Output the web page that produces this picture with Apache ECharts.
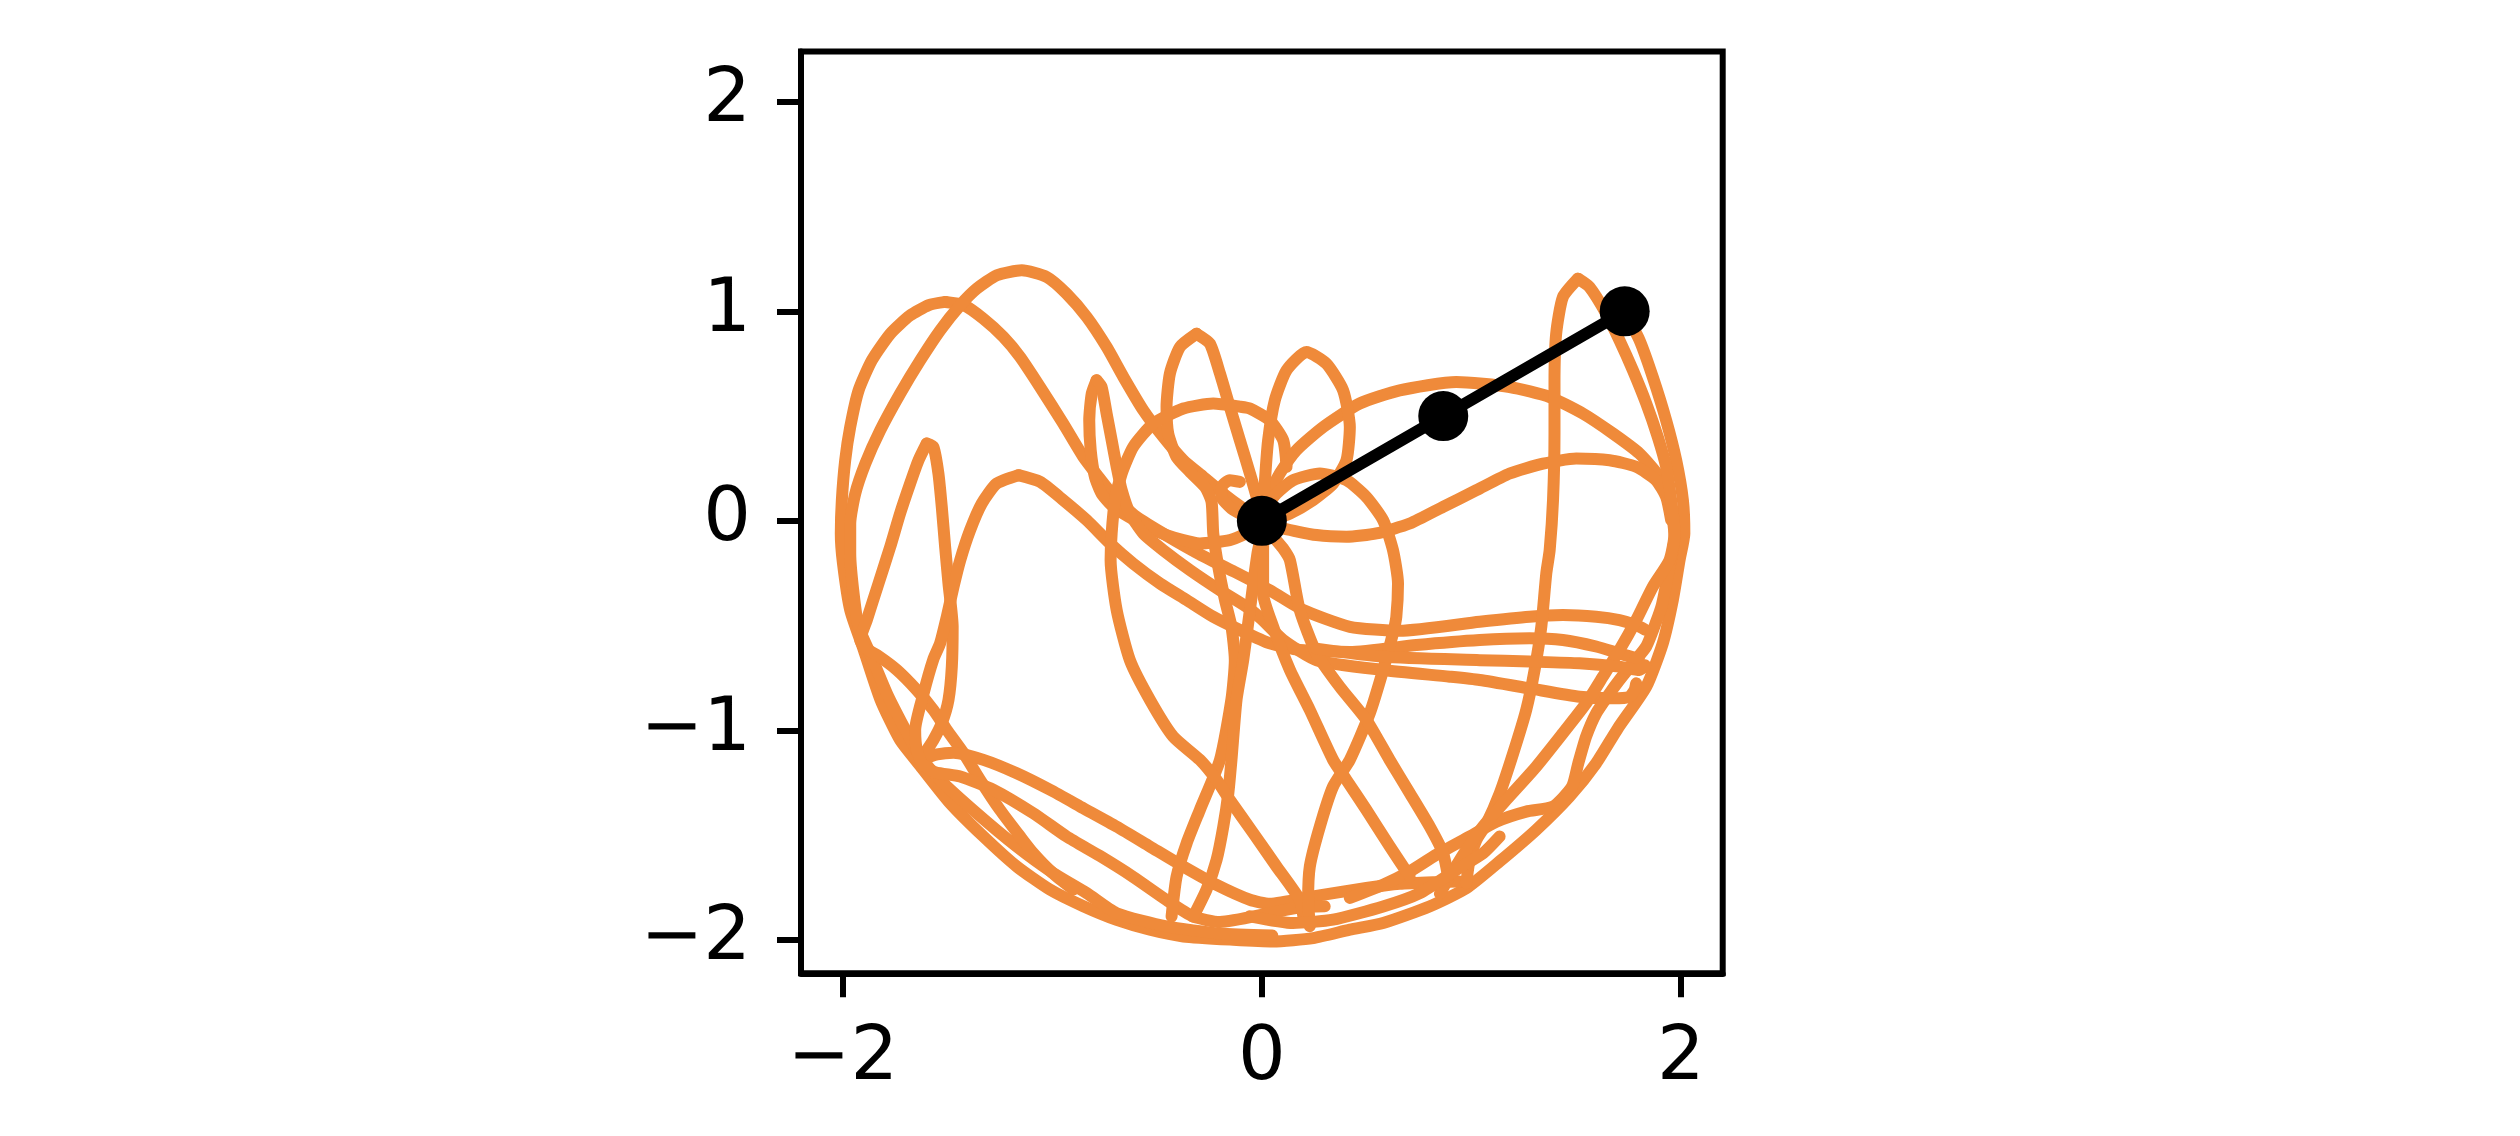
<!DOCTYPE html>
<html><head><meta charset="utf-8">
<script src="https://cdn.jsdelivr.net/npm/echarts@6/dist/echarts.min.js"></script>
<style>html,body{margin:0;padding:0;background:#fff}#c{width:2520px;height:1136px}</style>
</head><body><div id="c"></div>
<script>
const xTicks = [-2, 0, 2];
const yTicks = [-2, -1, 0, 1, 2];
const pendulum = [[0, 0], [0.866, 0.5], [1.732, 1.0]];

const arcOuter = [[-1.51,1.045],[-1.59,1.03],[-1.68,0.98],[-1.774,0.893],[-1.862,0.766],[-1.925,0.623],[-1.965,0.448],[-1.989,0.289],[-2.005,0.099],[-2.01,-0.06],[-2.0,-0.2],[-1.965,-0.426],[-1.9,-0.617],[-1.82,-0.855],[-1.727,-1.046],[-1.63,-1.17],[-1.488,-1.348],[-1.329,-1.507],[-1.17,-1.65],[-1.011,-1.761],[-0.852,-1.84],[-0.693,-1.905],[-0.534,-1.952],[-0.375,-1.984],[-0.137,-2.0],[0.054,-2.008],[0.245,-1.992],[0.42,-1.952],[0.579,-1.92],[0.8,-1.841],[0.976,-1.754],[1.135,-1.626],[1.31,-1.475],[1.469,-1.316],[1.596,-1.157],[1.7,-0.99],[1.835,-0.792],[1.914,-0.585],[1.962,-0.378],[1.994,-0.188],[2.017,-0.06],[2.01,0.099],[1.978,0.289],[1.93,0.48],[1.866,0.687],[1.803,0.862],[1.739,0.984]];
const legP1 = [[-1.51,1.045],[-1.424,1.03],[-1.33,0.965],[-1.234,0.878],[-1.154,0.782],[-1.059,0.639],[-0.948,0.464],[-0.852,0.305],[-0.78,0.21],[-0.7,0.11],[-0.6,0.02],[-0.455,-0.07],[-0.296,-0.16],[-0.137,-0.24],[0.038,-0.331],[0.197,-0.426],[0.42,-0.506],[0.658,-0.525],[1.04,-0.482],[1.278,-0.458],[1.437,-0.45],[1.596,-0.458],[1.707,-0.474],[1.787,-0.498],[1.83,-0.52]];
const arcP2 = [[0,0],[-0.089,0.059],[-0.184,0.13],[-0.28,0.21],[-0.375,0.289],[-0.471,0.401],[-0.566,0.528],[-0.661,0.687],[-0.741,0.83],[-0.836,0.973],[-0.932,1.084],[-1.027,1.164],[-1.146,1.196],[-1.265,1.172],[-1.361,1.108],[-1.44,1.029],[-1.536,0.909],[-1.631,0.766],[-1.727,0.607],[-1.822,0.432],[-1.893,0.273],[-1.941,0.13],[-1.965,-0.013],[-1.965,-0.156],[-1.949,-0.347],[-1.925,-0.506],[-1.87,-0.633],[-1.79,-0.824],[-1.71,-0.982],[-1.631,-1.126],[-1.536,-1.237],[-1.361,-1.396],[-1.17,-1.555],[-0.995,-1.682],[-0.836,-1.777],[-0.693,-1.873],[-0.455,-1.936],[-0.2,-1.97],[0.05,-1.98]];
const loopP3a = [[-1.6,0.369],[-1.639,0.289],[-1.679,0.178],[-1.727,0.035],[-1.774,-0.124],[-1.83,-0.299],[-1.886,-0.474],[-1.917,-0.569],[-1.89,-0.61],[-1.838,-0.64],[-1.742,-0.712],[-1.647,-0.808],[-1.568,-0.903],[-1.504,-0.998],[-1.424,-1.109],[-1.345,-1.237],[-1.25,-1.38],[-1.154,-1.507],[-1.091,-1.587],[-1.0,-1.68],[-0.9,-1.76]];
const loopP3b = [[-1.6,0.369],[-1.568,0.353],[-1.544,0.226],[-1.528,0.067],[-1.512,-0.124],[-1.496,-0.299],[-1.476,-0.506],[-1.48,-0.696],[-1.496,-0.855],[-1.528,-0.966],[-1.568,-1.046],[-1.615,-1.118],[-1.631,-1.141],[-1.55,-1.115],[-1.472,-1.107],[-1.329,-1.141],[-1.17,-1.205],[-1.011,-1.284],[-0.852,-1.372],[-0.693,-1.46],[-0.534,-1.555],[-0.375,-1.65],[-0.216,-1.738],[-0.057,-1.809],[0.038,-1.828],[0.245,-1.793],[0.499,-1.753],[0.658,-1.733],[0.833,-1.725],[0.944,-1.722]];
const loopP4a = [[-1.162,0.218],[-1.266,0.178],[-1.337,0.083],[-1.393,-0.045],[-1.44,-0.188],[-1.472,-0.315],[-1.504,-0.458],[-1.536,-0.585],[-1.568,-0.66],[-1.615,-0.824],[-1.655,-0.998],[-1.647,-1.094],[-1.62,-1.16],[-1.56,-1.2],[-1.44,-1.221],[-1.281,-1.284],[-1.091,-1.396],[-0.932,-1.507],[-0.773,-1.6],[-0.614,-1.7],[-0.455,-1.81],[-0.327,-1.889],[-0.2,-1.915],[0.038,-1.873],[0.181,-1.845],[0.3,-1.84]];
const loopP4b = [[-1.162,0.218],[-1.059,0.186],[-0.948,0.099],[-0.836,0.003],[-0.725,-0.108],[-0.614,-0.204],[-0.486,-0.299],[-0.359,-0.378],[-0.232,-0.458],[-0.105,-0.521],[0.038,-0.585],[0.181,-0.616],[0.42,-0.626],[0.738,-0.593],[1.04,-0.569],[1.278,-0.561],[1.437,-0.569],[1.596,-0.6],[1.707,-0.633],[1.8,-0.66]];
const loopP5a = [[-0.789,0.671],[-0.812,0.607],[-0.824,0.48],[-0.817,0.337],[-0.797,0.21],[-0.765,0.13],[-0.709,0.067],[-0.6,0.0],[-0.455,-0.068],[-0.296,-0.108],[-0.153,-0.092],[-0.073,-0.06],[0,-0.02]];
const loopP5b = [[-0.789,0.671],[-0.765,0.639],[-0.741,0.512],[-0.717,0.385],[-0.693,0.258],[-0.669,0.146],[-0.63,0.035],[-0.566,-0.06],[-0.471,-0.14],[-0.343,-0.235],[-0.2,-0.331],[-0.073,-0.41],[0.0,-0.47],[0.102,-0.569],[0.261,-0.665],[0.579,-0.712],[0.897,-0.744],[1.04,-0.76],[1.278,-0.8],[1.517,-0.84],[1.676,-0.847],[1.755,-0.84],[1.779,-0.808],[1.787,-0.776]];
const loopP6a = [[-0.312,0.893],[-0.391,0.83],[-0.439,0.703],[-0.455,0.544],[-0.447,0.417],[-0.407,0.305],[-0.343,0.234],[-0.27,0.16],[-0.24,0.09],[-0.232,-0.06],[-0.208,-0.219],[-0.176,-0.378],[-0.145,-0.506],[-0.129,-0.665],[-0.145,-0.85],[-0.2,-1.141],[-0.296,-1.38],[-0.359,-1.539],[-0.407,-1.698],[-0.431,-1.889]];
const loopP6b = [[-0.312,0.893],[-0.248,0.846],[-0.2,0.703],[-0.153,0.544],[-0.105,0.385],[-0.057,0.226],[-0.017,0.083],[0.0,-0.045],[-0.02,-0.15],[-0.041,-0.3],[-0.057,-0.426],[-0.089,-0.665],[-0.121,-0.855],[-0.145,-1.141],[-0.16,-1.3],[-0.184,-1.459],[-0.216,-1.618],[-0.264,-1.76],[-0.327,-1.889]];
const ringC1 = [[0.118,0.258],[0.102,0.385],[0.038,0.48],[-0.057,0.536],[-0.105,0.545],[-0.232,0.56],[-0.375,0.536],[-0.518,0.464],[-0.614,0.353],[-0.669,0.226],[-0.701,0.099],[-0.717,-0.06],[-0.722,-0.188],[-0.693,-0.426],[-0.63,-0.665],[-0.534,-0.855],[-0.423,-1.03],[-0.296,-1.141],[-0.216,-1.237],[-0.153,-1.332],[-0.041,-1.491],[0.07,-1.65],[0.181,-1.809],[0.2,-1.9]];
const curlOrigin = [[-0.073,0.019],[-0.145,0.059],[-0.192,0.114],[-0.192,0.162],[-0.153,0.194],[-0.105,0.186]];
const arcTop = [[0.0,0.0],[0.02,0.06],[0.038,0.13],[0.086,0.226],[0.165,0.337],[0.293,0.448],[0.467,0.56],[0.658,0.623],[0.928,0.663],[1.183,0.639],[1.374,0.591],[1.533,0.512],[1.676,0.417],[1.803,0.321],[1.898,0.21],[1.946,0.099],[1.97,-0.076],[1.94,-0.25],[1.91,-0.4],[1.883,-0.48],[1.835,-0.6],[1.771,-0.68],[1.707,-0.76],[1.66,-0.824],[1.596,-0.919],[1.548,-1.03],[1.51,-1.16],[1.48,-1.27],[1.39,-1.364],[1.262,-1.388],[1.119,-1.436],[0.992,-1.507],[0.833,-1.594],[0.706,-1.674],[0.579,-1.737],[0.42,-1.8]];
const loopSmall = [[0.006,0.003],[0.014,0.178],[0.03,0.385],[0.062,0.576],[0.118,0.719],[0.213,0.806],[0.308,0.75],[0.388,0.623],[0.42,0.448],[0.404,0.289],[0.34,0.178],[0.245,0.099],[0.134,0.035],[0.038,0.003]];
const wave = [[0.0,-0.02],[0.102,-0.037],[0.261,-0.068],[0.404,-0.076],[0.547,-0.06],[0.706,-0.013],[0.865,0.067],[1.024,0.146],[1.183,0.226],[1.342,0.273],[1.501,0.297],[1.66,0.289],[1.787,0.258],[1.882,0.194],[1.93,0.114],[1.954,0.003]];
const loopD4 = [[0.0,0.0],[0.022,0.067],[0.07,0.13],[0.149,0.194],[0.277,0.226],[0.404,0.194],[0.499,0.114],[0.579,0.003],[0.626,-0.14],[0.65,-0.299],[0.642,-0.458],[0.626,-0.537],[0.579,-0.712],[0.515,-0.919],[0.42,-1.141],[0.34,-1.268],[0.277,-1.459],[0.229,-1.65],[0.221,-1.808],[0.229,-1.935]];
const peakRightA = [[1.509,1.156],[1.437,1.068],[1.405,0.893],[1.397,0.655],[1.397,0.417],[1.39,0.099],[1.374,-0.14],[1.358,-0.25],[1.334,-0.506],[1.302,-0.712],[1.262,-0.903],[1.2,-1.109],[1.136,-1.3],[1.07,-1.45],[1.024,-1.523],[0.992,-1.618],[0.976,-1.73]];
const peakRightB = [[1.509,1.156],[1.564,1.116],[1.644,0.989],[1.707,0.862],[1.771,0.719],[1.835,0.56],[1.89,0.401],[1.93,0.258],[1.954,0.099],[1.97,-0.06],[1.946,-0.188],[1.866,-0.315],[1.787,-0.474],[1.707,-0.617],[1.628,-0.744],[1.548,-0.871],[1.437,-1.014],[1.31,-1.173],[1.167,-1.332],[1.056,-1.459],[0.976,-1.57],[0.897,-1.698],[0.85,-1.78]];
const diagD5 = [[0.0,0.0],[0.05,-0.07],[0.1,-0.13],[0.134,-0.188],[0.181,-0.426],[0.261,-0.633],[0.372,-0.792],[0.499,-0.95],[0.61,-1.141],[0.706,-1.3],[0.801,-1.459],[0.865,-1.586],[0.889,-1.698]];
const diagD6 = [[0.006,0.003],[0.006,-0.14],[0.006,-0.347],[0.054,-0.506],[0.134,-0.712],[0.229,-0.903],[0.34,-1.141],[0.404,-1.237],[0.499,-1.38],[0.611,-1.555],[0.706,-1.698]];
const lowBottom = [[-0.057,-1.888],[0.149,-1.92],[0.34,-1.904],[0.579,-1.841],[0.754,-1.777],[0.928,-1.666],[1.056,-1.587],[1.135,-1.507]];
const lineHc = [[0.26,-0.61],[0.579,-0.649],[1.04,-0.665],[1.278,-0.672],[1.517,-0.68],[1.707,-0.696],[1.803,-0.712],[1.83,-0.69]];

const traces = [arcOuter, legP1, arcP2, loopP3a, loopP3b, loopP4a, loopP4b, loopP5a, loopP5b,
  loopP6a, loopP6b, ringC1, curlOrigin, arcTop, loopSmall, wave, loopD4, peakRightA, peakRightB,
  diagD5, diagD6, lowBottom, lineHc];

const chart = echarts.init(document.getElementById('c'), null, {renderer: 'canvas'});
const fmt = v => String(v).replace('-', '\u2212');
const orange = '#ef8a3a';
const axisCommon = {
  type: 'value',
  axisLine: {show: true, onZero: false, lineStyle: {color: '#000', width: 6}},
  splitLine: {show: false},
  axisTick: {show: true, length: 24, lineStyle: {color: '#000', width: 6}},
};
chart.setOption({
  animation: false,
  backgroundColor: '#fff',
  grid: {left: 801, top: 51.6, width: 921.7, height: 921.7, show: true, borderColor: '#000', borderWidth: 6, containLabel: false},
  xAxis: Object.assign({}, axisCommon, {
    min: -2.2, max: 2.2,
    axisTick: Object.assign({}, axisCommon.axisTick, {customValues: xTicks}),
    axisLabel: {customValues: xTicks, formatter: fmt, fontSize: 75, fontFamily: 'DejaVu Sans', color: '#000', margin: 49}
  }),
  yAxis: Object.assign({}, axisCommon, {
    min: -2.16, max: 2.24,
    axisTick: Object.assign({}, axisCommon.axisTick, {customValues: yTicks}),
    axisLabel: {customValues: yTicks, formatter: fmt, fontSize: 75, fontFamily: 'DejaVu Sans', color: '#000', margin: 50, padding: [16, 0, 0, 0]}
  }),
  series: traces.map(t => ({
    type: 'line', data: t, showSymbol: false, symbol: 'none', silent: true, z: 2, smooth: 0.2,
    lineStyle: {color: orange, width: 12, cap: 'round', join: 'round'}
  })).concat([{
    type: 'line', data: pendulum, symbol: 'circle', symbolSize: 50, showSymbol: true, z: 5,
    itemStyle: {color: '#000'}, lineStyle: {color: '#000', width: 12}
  }])
});
</script>
</body></html>
